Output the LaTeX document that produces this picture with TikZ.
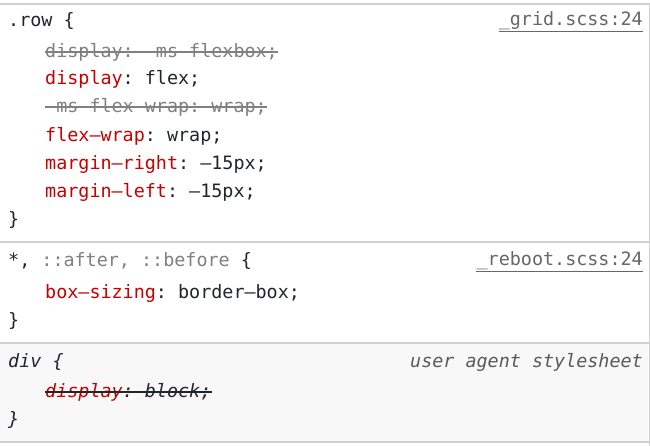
\documentclass[tikz,border=0pt]{standalone}
\usepackage{fontspec}
\setmonofont{DejaVu Sans Mono}
\usepackage{tikz}
\definecolor{propred}{RGB}{200,0,0}
\definecolor{codedark}{RGB}{33,37,45}
\definecolor{dimgrey}{RGB}{128,128,128}
\definecolor{rulegrey}{RGB}{208,208,208}
\definecolor{uabg}{RGB}{248,248,248}
\tikzset{
  code/.style={anchor=west,inner sep=0pt,font=\fontsize{18.4}{22}\selectfont\ttfamily,text=codedark},
  src/.style={anchor=east,inner sep=0pt,font=\fontsize{18.4}{22}\selectfont\ttfamily,text=dimgrey!80!black},
  strike/.style={line width=1.2pt}
}
\newcommand{\prop}[1]{\textcolor{propred}{#1}}
\begin{document}
\begin{tikzpicture}[x=1pt,y=-1pt]
                \useasboundingbox (0,0) rectangle (650,446);
                \fill[white] (0,0) rectangle (650,446);
                % Panel rules
                \fill[uabg] (0,343) rectangle (648,442);
                \draw[rulegrey,line width=1.5pt] (0,4) -- (650,4);
                \draw[rulegrey,line width=1.5pt] (0,242) -- (650,242);
                \draw[rulegrey,line width=1.5pt] (0,343) -- (650,343);
                \draw[rulegrey,line width=1.5pt] (0,442) -- (650,442);
                \draw[rulegrey,line width=1pt] (649,4) -- (649,446);
                % .row rule
                \node[code] (row) at (8,21) {.row \{};
                \node[src] (gridsrc) at (643,21) {\_grid.scss:24};
                \draw[dimgrey!80!black,line width=1pt] ([yshift=-1pt]gridsrc.south west) -- ([yshift=-1pt]gridsrc.south east);
                \node[code,text=dimgrey] (msdisp) at (45,52) {display: –ms–flexbox;};
                \draw[dimgrey,strike] (msdisp.west) -- (msdisp.east);
                \node[code] (disp) at (45,79) {\prop{display}: flex;};
                \node[code,text=dimgrey] (mswrap) at (45,107) {–ms–flex–wrap: wrap;};
                \draw[dimgrey,strike] (mswrap.west) -- (mswrap.east);
                \node[code] (wrap) at (45,136) {\prop{flex–wrap}: wrap;};
                \node[code] (mright) at (45,164) {\prop{margin–right}: –15px;};
                \node[code] (mleft) at (45,192) {\prop{margin–left}: –15px;};
                \node[code] (rowend) at (8,220) {\}};
                % universal rule
                \node[code] (star) at (8,261) {*, \textcolor{dimgrey}{::after, ::before} \{};
                \node[src] (rebootsrc) at (643,261) {\_reboot.scss:24};
                \draw[dimgrey!80!black,line width=1pt] ([yshift=-1pt]rebootsrc.south west) -- ([yshift=-1pt]rebootsrc.south east);
                \node[code] (boxsz) at (45,293) {\prop{box–sizing}: border–box;};
                \node[code] (starend) at (8,321) {\}};
                % user agent rule
                \node[code,font=\fontsize{18.4}{22}\selectfont\ttfamily\itshape] (div) at (8,362) {div \{};
                \node[src,font=\fontsize{18.4}{22}\selectfont\ttfamily\itshape,text=dimgrey!70!black] (ua) at (643,362) {user agent stylesheet};
                \node[code,font=\fontsize{18.4}{22}\selectfont\ttfamily\itshape] (block) at (45,392) {\prop{display}: block;};
                \draw[codedark,strike] (block.west) -- (block.east);
                \node[code,font=\fontsize{18.4}{22}\selectfont\ttfamily\itshape] (divend) at (8,420) {\}};
            \end{tikzpicture}
\end{document}
